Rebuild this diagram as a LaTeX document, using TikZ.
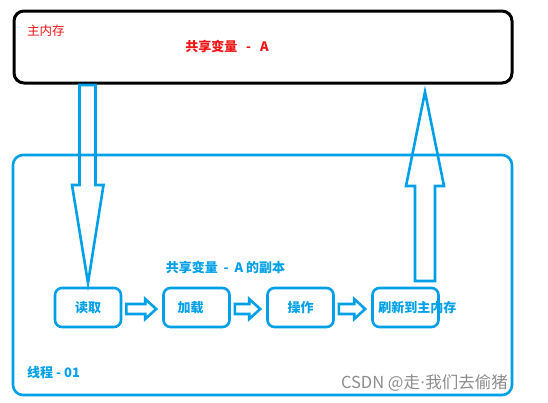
\documentclass[tikz,border=0pt]{standalone}
\usepackage{fontspec}
\setmainfont{Noto Sans CJK SC}
\newfontfamily\dejavu{DejaVu Sans}
\definecolor{cblue}{RGB}{0,160,233}
\definecolor{cred}{RGB}{240,20,20}
\definecolor{wm}{RGB}{140,140,140}
\tikzset{
  membox/.style={draw=black, line width=3pt, rounded corners=10pt},
  thrbox/.style={draw=cblue, line width=2.6pt, rounded corners=10pt},
  stepbox/.style={draw=cblue, line width=2.6pt, rounded corners=7pt, minimum width=66pt, minimum height=39pt, inner sep=0pt, font=\fontsize{13}{15}\selectfont\bfseries, text=cblue},
  blockarrow/.style={draw=cblue, line width=2.6pt, line join=miter},
  bluetext/.style={text=cblue, font=\fontsize{13}{15}\selectfont\bfseries, inner sep=0pt},
}
\begin{document}
\begin{tikzpicture}[x=1pt, y=-1pt]
\useasboundingbox (0,0) rectangle (548,402);
% main memory
\draw[membox] (14,11) rectangle (512,83);
\node[anchor=west, text=cred, font=\fontsize{12.5}{14}\selectfont, inner sep=0pt] (mmlabel) at (27,31) {主内存};
\node[text=cred, font=\fontsize{13}{15}\selectfont\bfseries, inner sep=0pt] (vara) at (227,46) {共享变量~~~-~~~A};
% thread box
\draw[thrbox] (13,155) rectangle (512,395);
% steps
\node[stepbox] (s1) at (88,307.5) {读取};
\node[stepbox] (s2) at (196.5,307.5) {\hspace*{-12pt}加载};
\node[stepbox] (s3) at (300.5,307.5) {操作};
\node[stepbox] (s4) at (405.5,307.5) {};
\node[anchor=west, bluetext] (s4t) at ([xshift=7pt]s4.west) {刷新到主内存};
\node[bluetext] (copy) at (225.5,267) {共享变量~~-~~A 的副本};
\node[anchor=west, bluetext] (thr) at (27,373) {线程 - 01};
\node[anchor=east, text=wm, font=\fontsize{16.5}{18}\selectfont, inner sep=0pt] (wmk) at (508,383) {CSDN @走{\dejavu ·}我们去偷猪};
% small block arrows
\foreach \a/\b in {s1/s2, s2/s3, s3/s4}{
  \path ([xshift=4pt]\a.east) coordinate (p1) ([xshift=-6pt]\b.west) coordinate (p2);
  \draw[blockarrow] ([yshift=-5pt]p1 |- 0,309) -- ([xshift=-11pt,yshift=-5pt]p2 |- 0,309) -- ([xshift=-11pt,yshift=-10pt]p2 |- 0,309) -- (p2 |- 0,309) -- ([xshift=-11pt,yshift=10pt]p2 |- 0,309) -- ([xshift=-11pt,yshift=5pt]p2 |- 0,309) -- ([yshift=5pt]p1 |- 0,309) -- cycle;
}
% big down arrow (read)
\draw[blockarrow] (79.5,85) -- (95.5,85) -- (95.5,185) -- (103.5,185) -- (88,283) -- (72,185) -- (79.5,185) -- cycle;
% big up arrow (write back)
\draw[blockarrow] (415,281) -- (415,186) -- (406,186) -- (425,92) -- (444,186) -- (435,186) -- (435,281) -- cycle;
\end{tikzpicture}
\end{document}
